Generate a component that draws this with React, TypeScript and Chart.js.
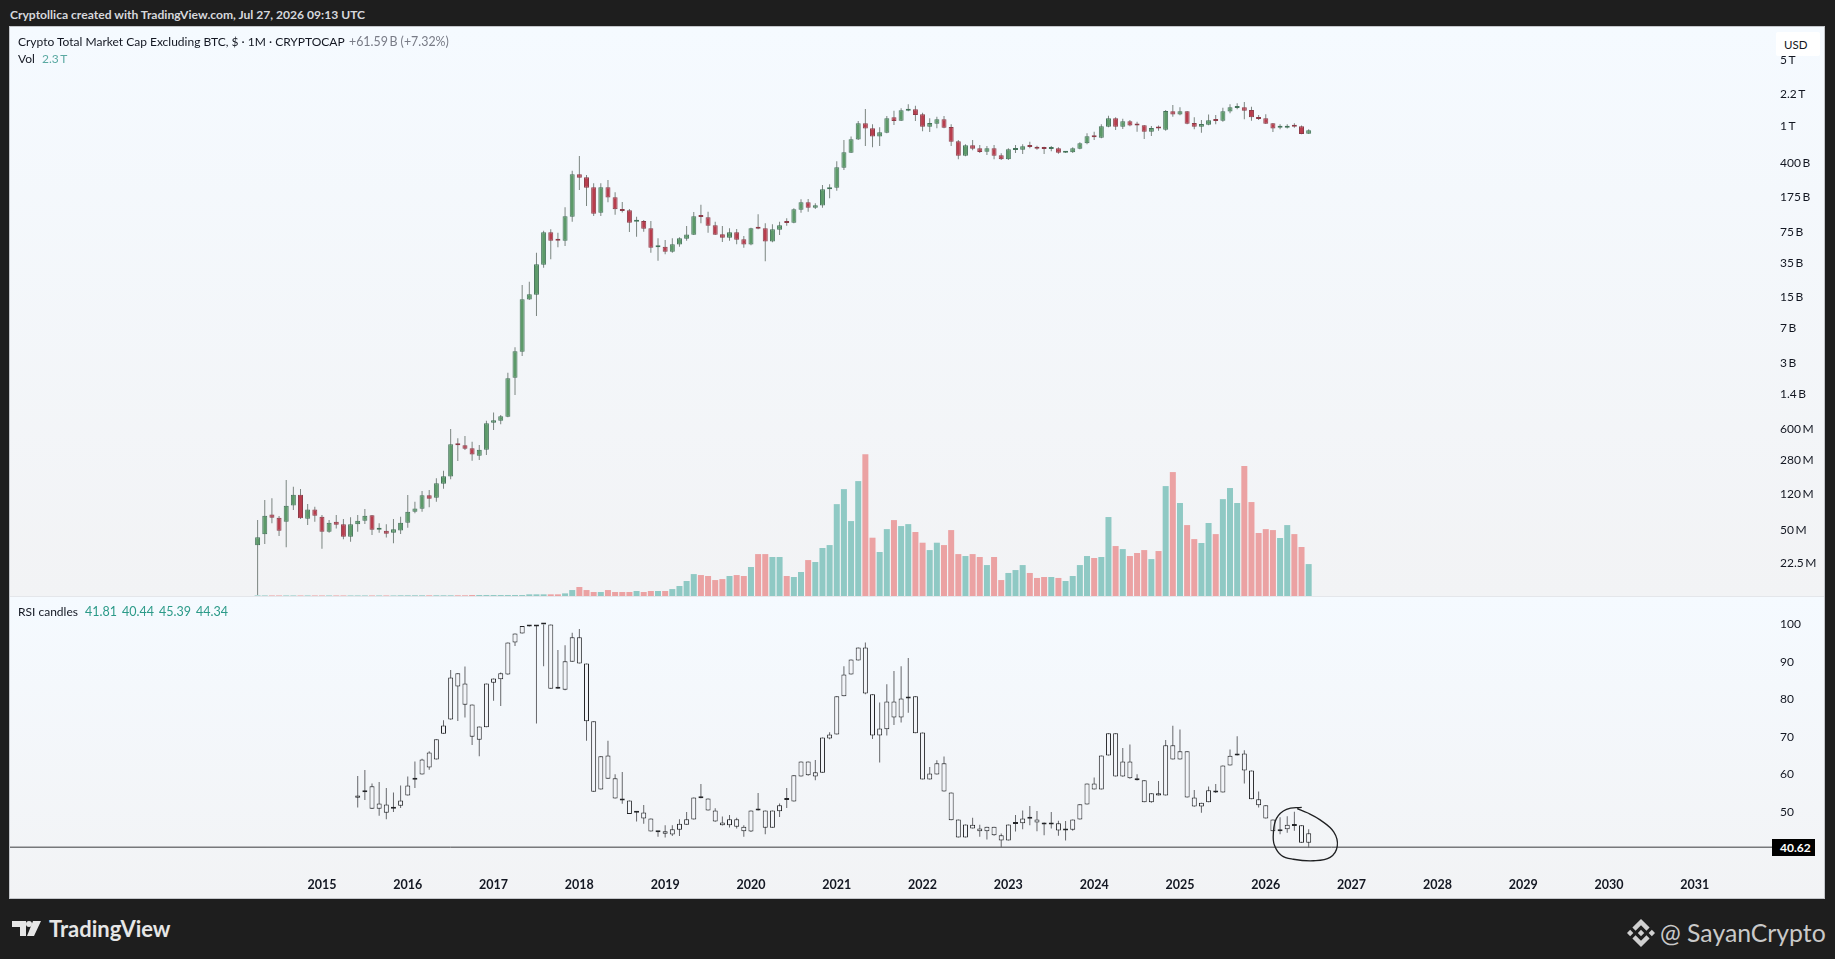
import React, { useEffect, useRef } from "react";
import { Chart, registerables } from "chart.js";

Chart.register(...registerables);

const logHigh = [
  7.808,8.021,8.039,7.851,8.234,8.163,8.138,7.978,7.950,7.861,
  7.808,7.861,7.819,7.837,7.861,7.925,7.861,7.773,7.762,7.819,
  7.843,8.074,8.003,8.117,8.128,8.252,8.333,8.777,8.678,8.702,
  8.642,8.607,8.865,8.951,8.926,9.376,9.645,10.309,10.344,10.652,
  10.886,10.901,10.865,11.135,11.525,11.681,11.479,11.390,11.390,11.425,
  11.294,11.191,11.117,11.035,11.000,10.989,10.805,10.787,10.805,10.816,
  10.936,11.085,11.163,11.089,10.982,10.936,10.911,10.904,10.830,10.918,
  11.060,10.965,10.954,10.982,11.018,11.124,11.220,11.223,11.177,11.372,
  11.379,11.624,11.851,11.887,12.053,12.181,12.018,11.986,12.106,12.163,
  12.188,12.231,12.216,12.142,12.082,12.099,12.106,12.018,11.851,11.805,
  11.851,11.798,11.787,11.798,11.709,11.762,11.798,11.805,11.833,11.791,
  11.780,11.787,11.773,11.734,11.773,11.826,11.922,11.940,12.018,12.110,
  12.092,12.078,12.064,12.046,12.011,12.000,12.004,12.170,12.223,12.199,
  12.160,12.092,12.064,12.121,12.117,12.195,12.231,12.241,12.255,12.206,
  12.117,12.124,12.032,12.018,12.018,12.028,12.004,11.965,
];
const logBodyTop = [
  7.624,7.854,7.868,7.833,7.961,8.078,8.078,7.921,7.921,7.843,
  7.780,7.790,7.762,7.762,7.801,7.854,7.858,7.713,7.695,7.709,
  7.780,7.897,7.932,8.071,8.071,8.199,8.273,8.614,8.617,8.603,
  8.571,8.557,8.837,8.869,8.911,9.316,9.603,10.156,10.209,10.528,
  10.869,10.869,10.787,11.039,11.486,11.486,11.454,11.347,11.347,11.347,
  11.241,11.113,11.103,10.989,10.989,10.911,10.720,10.716,10.741,10.805,
  10.847,11.039,11.043,11.028,10.943,10.848,10.869,10.869,10.794,10.911,
  10.915,10.911,10.901,10.943,10.979,11.114,11.188,11.188,11.156,11.326,
  11.348,11.560,11.720,11.858,12.028,12.028,11.975,11.933,12.082,12.092,
  12.167,12.181,12.177,12.124,12.032,12.071,12.071,11.989,11.837,11.794,
  11.794,11.762,11.762,11.762,11.688,11.752,11.755,11.784,11.784,11.773,
  11.762,11.766,11.762,11.723,11.762,11.816,11.890,11.890,11.996,12.082,
  12.082,12.050,12.050,12.011,12.007,11.979,11.979,12.160,12.156,12.156,
  12.156,12.032,12.021,12.060,12.060,12.156,12.199,12.202,12.199,12.170,
  12.092,12.082,12.028,11.993,12.000,11.996,11.996,11.954,
];
const logBodyBottom = [
  7.539,7.656,7.833,7.695,7.790,7.964,7.826,7.822,7.854,7.684,
  7.684,7.758,7.631,7.631,7.762,7.801,7.705,7.705,7.663,7.674,
  7.698,7.780,7.897,7.929,8.035,8.046,8.195,8.270,8.603,8.567,
  8.504,8.493,8.557,8.844,8.865,8.908,9.323,9.599,10.153,10.206,
  10.525,10.780,10.780,10.780,11.035,11.450,11.344,11.067,11.078,11.238,
  11.113,11.096,10.972,10.982,10.908,10.706,10.709,10.663,10.663,10.738,
  10.801,10.844,11.032,10.940,10.844,10.812,10.812,10.791,10.738,10.738,
  10.908,10.770,10.770,10.897,10.968,10.972,11.110,11.131,11.131,11.153,
  11.326,11.344,11.557,11.716,11.855,11.972,11.887,11.887,11.929,12.053,
  12.057,12.163,12.117,11.993,11.993,12.025,11.982,11.833,11.684,11.684,
  11.759,11.723,11.727,11.684,11.645,11.645,11.745,11.748,11.777,11.759,
  11.755,11.755,11.716,11.716,11.720,11.759,11.816,11.879,11.876,11.993,
  11.993,11.993,12.004,12.004,11.940,11.940,11.972,11.961,12.121,12.121,
  12.025,11.993,11.993,12.014,12.053,12.057,12.153,12.192,12.163,12.092,
  12.074,12.025,11.972,11.982,11.982,11.993,11.915,11.918,
];
const logLow = [
  7.011,7.553,7.773,7.639,7.518,7.915,7.819,7.755,7.790,7.503,
  7.674,7.719,7.603,7.578,7.684,7.766,7.649,7.674,7.621,7.560,
  7.659,7.727,7.879,7.897,7.943,8.003,8.142,8.241,8.436,8.553,
  8.440,8.447,8.500,8.766,8.826,8.901,9.138,9.553,10.149,9.979,
  10.493,10.582,10.709,10.723,10.982,11.319,11.149,11.043,11.043,11.188,
  11.057,11.081,10.872,10.823,10.876,10.652,10.567,10.635,10.652,10.716,
  10.780,10.840,10.965,10.865,10.840,10.766,10.780,10.741,10.706,10.731,
  10.901,10.560,10.762,10.840,10.940,10.965,11.078,11.089,11.117,11.131,
  11.231,11.312,11.532,11.713,11.851,11.787,11.773,11.787,11.922,12.011,
  12.053,12.156,12.053,11.943,11.936,11.975,11.975,11.787,11.645,11.677,
  11.741,11.713,11.692,11.645,11.638,11.638,11.713,11.702,11.762,11.748,
  11.702,11.731,11.706,11.713,11.713,11.752,11.805,11.851,11.869,11.986,
  11.957,11.968,11.996,11.940,11.862,11.894,11.950,11.950,12.099,12.113,
  12.018,11.965,11.929,12.007,12.018,12.046,12.135,12.177,12.071,12.057,
  12.064,12.021,11.936,11.965,11.972,11.982,11.911,11.915,
];
const monthUp = [
  1,1,0,0,1,1,0,1,0,0, 1,0,0,1,1,1,0,1,0,1, 1,1,1,1,0,1,1,1,0,0, 0,1,1,1,1,1,1,1,1,1,
  1,0,0,1,1,0,0,0,1,0, 0,0,0,1,0,0,1,0,1,1, 1,1,0,0,0,0,1,0,0,1, 0,0,1,1,0,1,1,0,1,1,
  1,1,1,1,1,0,0,1,1,0, 1,1,0,0,1,1,0,0,0,1, 0,0,1,0,0,1,1,1,0,0, 0,1,0,1,1,1,1,0,1,1,
  0,1,0,0,0,1,0,1,0,1, 0,0,1,1,0,1,1,1,0,0, 0,0,0,1,1,0,0,1,
];
// monthly volume, trillions of USD
const volumeT = [
  .04,.04,.04,.04,.04,.04,.04,.04,.04,.04, .04,.04,.04,.04,.04,.04,.04,.04,.04,.04,
  .05,.05,.05,.05,.05,.05,.05,.05,.05,.05, .07,.07,.07,.07,.07,.07,.07,.07,.12,.12,
  .12,.12,.12,.19,.43,.65,.43,.29,.29,.43, .29,.29,.29,.36,.29,.36,.36,.36,.50,.72,
  1.08,1.58,1.51,1.44,1.15,1.22,1.44,1.51,1.44,2.09, 3.02,3.02,2.81,2.81,1.44,1.37,1.73,2.59,2.45,3.46,
  3.67,6.62,7.70,5.40,8.28,10.22,4.20,3.17,4.82,5.47, 5.04,5.18,4.61,3.84,3.31,3.84,3.67,4.75,3.02,2.88,
  3.02,2.81,2.23,2.81,1.15,1.66,1.87,2.23,1.66,1.30, 1.37,1.37,1.30,1.08,1.44,2.23,2.88,2.74,2.81,5.69,
  3.60,3.38,2.88,3.10,3.31,2.66,3.24,7.92,8.93,6.70, 5.11,4.10,3.82,5.26,4.46,6.98,7.78,6.70,9.36,6.77,
  4.54,4.82,4.75,4.18,5.11,4.46,3.53,2.30,
];

// ---- RSI candles, first value belongs to month index 14 ----
const rsiFirstMonth = 14;
const rsiHigh = [
  59.6,61.2,57.6,58.0,56.4,55.2,57.1,59.5,63.5,64.2,
  66.2,69.4,74.5,87.9,87.0,88.8,78.7,72.8,84.3,85.6,
  87.2,95.2,97.6,99.6,99.6,99.9,100,100,93.2,94.5,
  97.8,98.8,89.6,74.2,64.9,69.0,60.1,60.7,53.1,50.1,
  51.9,48.3,44.9,46.5,46.5,48.1,50.0,53.9,57.5,53.6,
  51.0,48.8,49.2,48.5,46.5,50.4,55.1,50.4,50.4,52.3,
  56.4,59.8,63.5,63.5,63.9,69.9,71.3,80.9,88.9,90.7,
  93.9,95.2,81.4,79.2,84.1,87.6,88.9,91.1,80.9,71.2,
  62.0,63.8,64.8,55.2,48.0,46.7,48.5,46.6,46.1,46.1,
  44.3,46.7,49.2,50.4,51.6,50.3,47.2,50.0,47.7,47.6,
  48.0,52.1,57.6,59.2,65.1,71.0,71.0,67.1,68.0,60.1,
  58.5,55.0,58.3,69.2,73.0,72.0,66.2,55.9,52.5,56.8,
  57.5,62.4,66.7,70.2,66.5,61.1,55.5,51.8,48.0,48.6,
  48.9,50.1,46.5,45.39,
];
const rsiBodyTop = [
  54.4,55.5,56.9,52.3,52.0,51.2,53.1,57.1,58.8,64.0,
  65.9,69.4,73.1,85.9,87.0,84.3,78.7,72.8,84.3,85.6,
  87.0,95.2,97.6,99.6,99.6,99.9,100,100,83.1,90.2,
  96.6,96.6,89.6,74.2,64.9,65.1,59.0,53.6,53.1,50.0,
  49.9,48.3,44.9,44.9,45.4,46.9,48.1,53.9,53.9,53.6,
  50.4,47.2,48.1,48.1,46.1,50.4,50.4,50.4,50.4,51.8,
  53.4,59.8,63.5,63.5,60.6,69.9,70.7,80.9,86.7,90.7,
  93.9,93.9,81.4,72.3,79.5,79.5,80.3,80.8,80.9,71.2,
  60.3,63.0,63.0,55.2,48.0,46.7,46.6,45.6,46.1,46.1,
  43.8,46.7,47.0,48.3,48.4,48.0,47.2,47.2,47.0,45.3,
  48.0,52.1,57.6,57.6,65.1,71.0,71.0,63.5,63.5,59.0,
  58.5,55.0,55.0,67.8,67.8,66.2,66.2,53.9,52.5,55.8,
  55.7,62.4,65.0,65.6,65.6,61.1,53.4,51.8,48.0,45.4,
  46.6,46.5,46.5,44.34,
];
const rsiBodyBottom = [
  53.8,55.3,50.9,50.9,49.8,50.9,51.7,54.4,58.6,60.0,
  61.9,64.0,70.9,74.7,83.5,78.6,70.1,69.3,72.6,84.5,
  85.4,86.7,95.2,97.6,99.5,99.5,100,82.9,82.9,82.6,
  90.1,89.6,74.2,55.4,56.0,58.9,53.6,53.1,49.5,49.8,
  48.3,44.8,44.6,44.2,44.0,45.3,46.6,48.0,53.7,50.4,
  47.5,46.5,46.5,46.1,44.9,44.8,50.4,45.8,45.8,50.2,
  53.2,52.8,59.5,59.8,59.5,60.5,69.6,70.7,80.9,86.7,
  90.4,81.6,70.4,70.4,72.1,75.2,75.2,80.3,71.0,58.7,
  58.7,60.0,55.5,47.8,43.2,43.2,45.6,44.9,44.9,43.8,
  42.4,42.4,46.8,47.0,48.2,47.2,46.7,46.7,45.1,45.1,
  45.3,48.0,52.0,56.0,56.0,65.1,59.5,59.5,59.0,58.5,
  52.6,52.6,54.4,54.4,64.0,64.0,53.9,51.5,51.5,52.6,
  55.2,55.2,62.4,65.1,61.1,53.4,51.8,48.3,44.9,44.9,
  45.4,46.3,41.8,41.81,
];
const rsiLow = [
  51.2,53.2,50.8,49.0,48.1,50.0,51.1,54.4,56.4,60.0,
  61.3,64.0,70.9,74.6,74.3,75.2,67.9,64.9,72.6,79.7,
  78.3,86.6,94.3,97.6,99.5,73.6,88.9,82.9,82.9,82.5,
  90.1,89.6,69.0,55.4,56.0,58.9,53.6,52.2,49.5,47.5,
  46.9,44.8,43.4,43.2,43.6,43.6,46.6,48.0,53.7,50.4,
  47.4,46.4,45.9,45.6,43.4,44.7,50.4,44.1,45.8,48.7,
  51.1,52.8,59.5,59.7,58.5,60.5,69.4,70.7,80.9,86.7,
  90.4,81.4,69.5,63.2,70.4,73.2,73.9,76.5,71.0,58.7,
  58.7,60.0,55.5,47.8,43.2,43.2,45.6,43.4,42.7,43.7,
  40.6,42.4,44.8,45.4,46.5,44.9,43.8,45.6,43.7,42.4,
  45.0,48.0,52.0,56.0,56.0,65.1,59.5,59.4,58.9,58.4,
  52.6,52.5,54.4,54.4,64.0,64.0,53.9,51.4,49.8,52.6,
  55.1,55.2,62.4,65.1,57.6,53.4,51.2,48.3,44.9,44.1,
  44.5,45.0,41.8,40.44,
];
const rsiCurrent = 40.62;

// hand-drawn ring round the last candles, in month index / RSI units
const ringMonth = [146.03,143.9,142.5,142.06,142.2,143.2,144.85,147.65,150.0,151.0,150.5,148.6,146.8,145.4];
const ringRsi = [51.25,50.7,48.3,44.3,41.2,38.4,37.4,37.0,37.9,40.9,44.7,47.9,49.8,50.9];

const priceTickValues = [5e12,2.2e12,1e12,4e11,1.75e11,7.5e10,3.5e10,1.5e10,7e9,3e9,1.4e9,6e8,2.8e8,1.2e8,5e7,2.25e7];
const priceTickLabels = ["5\u2009T","2.2\u2009T","1\u2009T","400\u2009B","175\u2009B","75\u2009B","35\u2009B","15\u2009B","7\u2009B","3\u2009B","1.4\u2009B","600\u2009M","280\u2009M","120\u2009M","50\u2009M","22.5\u2009M"];
const rsiTickValues = [100,90,80,70,60,50];
const yearLabels = [2015,2016,2017,2018,2019,2020,2021,2022,2023,2024,2025,2026,2027,2028,2029,2030,2031];

const xMin = -34.63;
const xMax = 211.8;
const janOf = (y: number) => 9 + 12 * (y - 2015);

const FONT = "Lato, sans-serif";
const axisWidth = (s: any) => { s.width = 52; s.paddingTop = 0; s.paddingBottom = 0; };
const hideAxisLines = { display: false };

const commonX: any = { type: "linear", min: xMin, max: xMax, offset: false, grid: { display: false }, border: hideAxisLines };
const barBase: any = { grouped: false, borderSkipped: false, inflateAmount: 0 };

function priceConfig(): any {
  const idx = logHigh.map((_, i) => i);
  return {
    type: "bar",
    data: {
      datasets: [
        {
          ...barBase,
          label: "Volume",
          yAxisID: "yVol",
          order: 3,
          barThickness: 6,
          data: idx.map((i) => ({ x: i, y: volumeT[i] * 1e12 })),
          backgroundColor: idx.map((i) => (monthUp[i] ? "#8fc9c4" : "#eba2a3")),
          borderWidth: 0,
        },
        {
          ...barBase,
          label: "Wick",
          yAxisID: "yPrice",
          order: 2,
          barThickness: 1,
          data: idx.map((i) => ({ x: i, y: [10 ** logLow[i], 10 ** logHigh[i]] })),
          backgroundColor: "#7b8580",
          borderWidth: 0,
        },
        {
          ...barBase,
          label: "Candle",
          yAxisID: "yPrice",
          order: 1,
          barThickness: 5,
          minBarLength: 2,
          data: idx.map((i) => ({ x: i, y: [10 ** logBodyBottom[i], 10 ** logBodyTop[i]] })),
          backgroundColor: idx.map((i) => (monthUp[i] ? "#5c9a69" : "#b83d4d")),
          borderColor: idx.map((i) => (monthUp[i] ? "#44735a" : "#8d3b48")),
          borderWidth: 1,
        },
      ],
    },
    options: {
      animation: false,
      responsive: false,
      layout: { padding: 0, autoPadding: false },
      plugins: { legend: { display: false }, tooltip: { enabled: false }, title: { display: false } },
      scales: {
        x: { ...commonX, display: false },
        yPrice: {
          type: "logarithmic",
          position: "right",
          min: 1e7,
          max: 1.13e13,
          afterFit: axisWidth,
          afterBuildTicks: (s: any) => { s.ticks = priceTickValues.map((value) => ({ value })); },
          grid: { display: false, drawTicks: false },
          border: hideAxisLines,
          ticks: {
            autoSkip: false,
            padding: 8,
            crossAlign: "near",
            color: "#131722",
            font: { family: FONT, size: 12 },
            callback: (_v: any, i: number) => priceTickLabels[i],
          },
        },
        yVol: { type: "linear", display: false, min: 0, max: 41e12, position: "left" },
      },
    },
  };
}

function rsiConfig(): any {
  const idx = rsiHigh.map((_, i) => i);
  return {
    type: "bar",
    data: {
      datasets: [
        {
          type: "line",
          label: "Ring",
          yAxisID: "yRsi",
          order: 0,
          data: ringMonth.map((x, i) => ({ x, y: ringRsi[i] })),
          borderColor: "#1f2022",
          borderWidth: 1.3,
          pointRadius: 0,
          tension: 0.4,
          fill: false,
          clip: false,
        },
        {
          type: "line",
          label: "Level",
          yAxisID: "yRsi",
          order: 4,
          data: [{ x: xMin, y: rsiCurrent }, { x: xMax, y: rsiCurrent }],
          borderColor: "#3a3b3e",
          borderWidth: 1,
          pointRadius: 0,
        },
        {
          ...barBase,
          label: "RSI wick",
          yAxisID: "yRsi",
          order: 3,
          barThickness: 1,
          data: idx.map((i) => ({ x: i + rsiFirstMonth, y: [rsiLow[i], rsiHigh[i]] })),
          backgroundColor: "#66676b",
          borderWidth: 0,
        },
        {
          ...barBase,
          label: "RSI candle",
          yAxisID: "yRsi",
          order: 2,
          barThickness: 5,
          minBarLength: 2,
          data: idx.map((i) => ({ x: i + rsiFirstMonth, y: [rsiBodyBottom[i], rsiBodyTop[i]] })),
          backgroundColor: "#f3f5f9",
          borderColor: "#232427",
          borderWidth: 1,
        },
      ],
    },
    options: {
      animation: false,
      responsive: false,
      layout: { padding: 0, autoPadding: false },
      plugins: { legend: { display: false }, tooltip: { enabled: false }, title: { display: false } },
      scales: {
        x: {
          ...commonX,
          position: "bottom",
          afterFit: (s: any) => { s.height = 26; s.paddingLeft = 0; s.paddingRight = 0; },
          afterBuildTicks: (s: any) => { s.ticks = yearLabels.map((y) => ({ value: janOf(y) })); },
          grid: { display: false, drawTicks: false },
          ticks: {
            autoSkip: false,
            maxRotation: 0,
            padding: 5,
            color: "#131722",
            font: { family: FONT, size: 12.5, weight: "700" },
            callback: (_v: any, i: number) => String(yearLabels[i]),
          },
        },
        yRsi: {
          type: "linear",
          position: "right",
          min: 34,
          max: 107.6,
          afterFit: axisWidth,
          afterBuildTicks: (s: any) => { s.ticks = rsiTickValues.map((value) => ({ value })); },
          grid: { display: false, drawTicks: false },
          border: hideAxisLines,
          ticks: {
            autoSkip: false,
            padding: 8,
            crossAlign: "near",
            color: "#131722",
            font: { family: FONT, size: 12 },
            callback: (v: any) => String(v),
          },
        },
      },
    },
  };
}

const txt = (left: number, cy: number, size: number, color: string, extra: any = {}): any => ({
  position: "absolute",
  left,
  top: cy,
  transform: "translateY(-50%)",
  fontFamily: FONT,
  fontSize: size,
  color,
  whiteSpace: "nowrap",
  lineHeight: 1,
  ...extra,
});

const BINANCE =
  "m38.73 53.2 24.59-24.58 24.6 24.6 14.3-14.31L63.32 0 24.43 38.89zM0 63.31l14.3-14.31 14.31 14.31-14.31 14.3zm38.73 10.1 24.59 24.59 24.6-24.6 14.31 14.29-38.9 38.91-38.9-38.88zm59.27-10.1 14.3-14.31 14.31 14.31-14.31 14.3zM77.83 63.3 63.32 48.78 52.59 59.51l-1.24 1.23-2.54 2.54 14.51 14.5 14.51-14.47z";

export default function App() {
  const topRef = useRef<HTMLCanvasElement>(null);
  const botRef = useRef<HTMLCanvasElement>(null);
  useEffect(() => {
    const a = new Chart(topRef.current as any, priceConfig());
    const b = new Chart(botRef.current as any, rsiConfig());
    return () => { a.destroy(); b.destroy(); };
  }, []);
  return (
    <div style={{ position: "fixed", left: 0, top: 0, width: 1835, height: 959, background: "#1e1e1e", overflow: "hidden" }}>
      <div style={txt(10, 15, 12.1, "#d6d8dc", { fontWeight: 700 })}>Cryptollica created with TradingView.com, Jul 27, 2026 09:13 UTC</div>

      <div style={{ position: "absolute", left: 9, top: 26, width: 1816, height: 873, boxSizing: "border-box", border: "1px solid #c4c6ca" }} />
      <div style={{ position: "absolute", left: 10, top: 27, width: 1814, height: 569, background: "linear-gradient(#f5faff,#f2f3f5)" }} />
      <div style={{ position: "absolute", left: 10, top: 596, width: 1814, height: 302, background: "linear-gradient(#f5faff,#f2f3f5)" }} />
      <div style={{ position: "absolute", left: 10, top: 596, width: 1814, height: 1, background: "#e4e6ea" }} />

      <canvas ref={topRef} width={1814} height={569} style={{ position: "absolute", left: 10, top: 27, width: 1814, height: 569 }} />
      <canvas ref={botRef} width={1814} height={302} style={{ position: "absolute", left: 10, top: 596, width: 1814, height: 302 }} />

      <div style={{ position: "absolute", left: 1776, top: 32, width: 44, height: 24, background: "#ffffff", borderRadius: 2 }} />
      <div style={txt(1784, 44.5, 11.5, "#131722")}>USD</div>

      <div style={txt(18, 42, 12, "#131722")}>Crypto Total Market Cap Excluding BTC, $ · 1M · CRYPTOCAP</div>
      <div style={txt(349, 42, 12.4, "#787b86")}>+61.59{"\u2009"}B (+7.32%)</div>
      <div style={txt(18, 59, 12, "#131722")}>Vol</div>
      <div style={txt(42, 59, 12, "#5aa9a2")}>2.3{"\u2009"}T</div>

      <div style={txt(18, 612, 12, "#131722")}>RSI candles</div>
      <div style={txt(85, 612, 12.5, "#2b9a88")}>41.81</div>
      <div style={txt(122, 612, 12.5, "#2b9a88")}>40.44</div>
      <div style={txt(159, 612, 12.5, "#2b9a88")}>45.39</div>
      <div style={txt(196, 612, 12.5, "#2b9a88")}>44.34</div>

      <div style={{ position: "absolute", left: 1772, top: 839, width: 43, height: 17, background: "#000" }} />
      <div style={txt(1780, 847.5, 12, "#ffffff", { fontWeight: 700 })}>40.62</div>

      <svg style={{ position: "absolute", left: 12, top: 921 }} width={30} height={16} viewBox="0 0 30 16">
        <path d="M0 0H14V15H8V6H0Z M21 0H29L22 15H15Z" fill="#e6e6e6" />
        <circle cx="17" cy="3" r="3" fill="#e6e6e6" />
      </svg>
      <div style={txt(49, 929, 22, "#e6e6e6", { fontWeight: 700 })}>TradingView</div>

      <svg style={{ position: "absolute", left: 1627, top: 919 }} width={28} height={28} viewBox="0 0 126.61 126.61">
        <path d={BINANCE} fill="#d0d0d0" />
      </svg>
      <div style={txt(1660, 933, 24.8, "#c9c9c9")}>@ SayanCrypto</div>
    </div>
  );
}
